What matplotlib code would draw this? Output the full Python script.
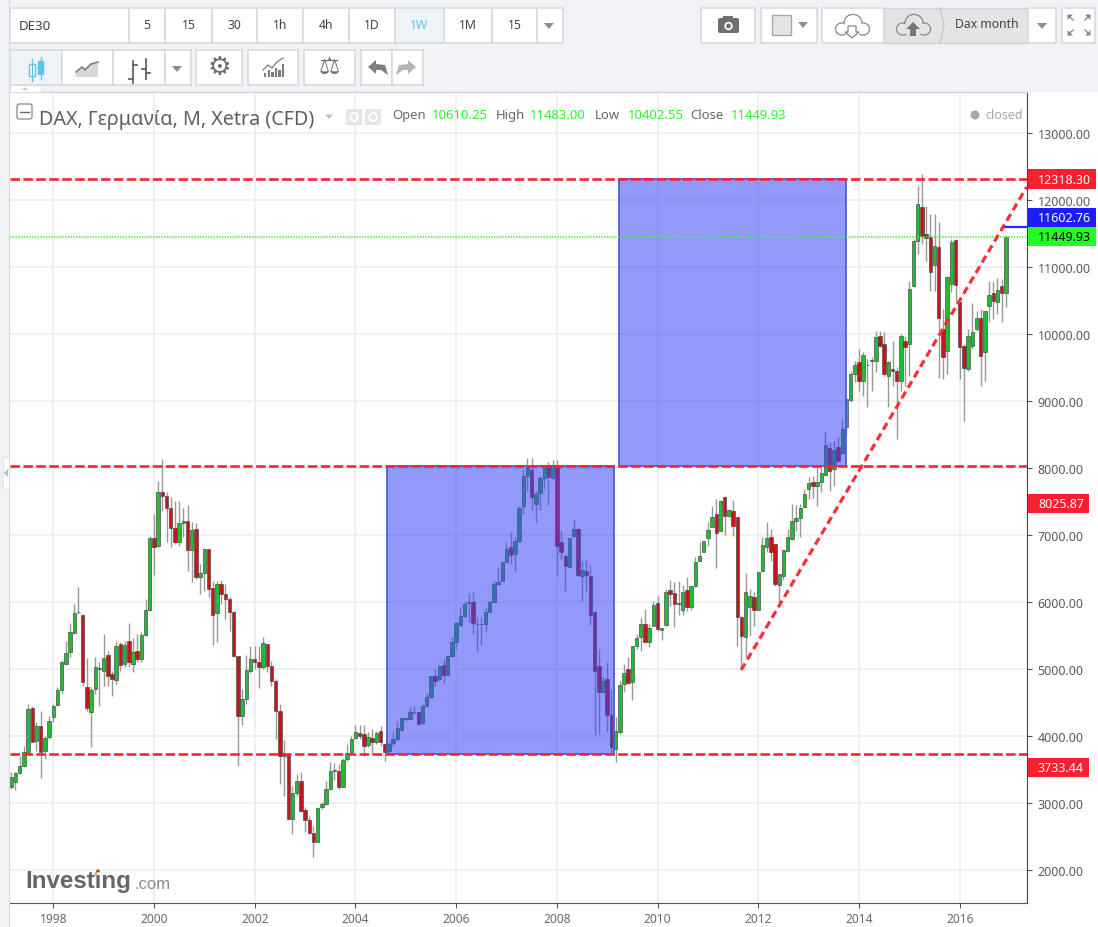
import matplotlib
matplotlib.use('Agg')
import numpy as np
import matplotlib.pyplot as plt
from matplotlib.patches import Rectangle, Polygon, Circle, FancyBboxPatch, Ellipse

plt.rcParams['font.family'] = ['Noto Sans', 'DejaVu Sans']

# monthly candles, first one is March 1997
first_year = 1997 + 2 / 12

opens = [3244,3318,3448,3557,3766,4413,3930,4144,3781,3980,
         4279,4463,4687,5075,5259,5532,5856,5806,4726,4363,
         4701,5000,4975,5209,4925,4836,5373,5075,5423,5075,
         5274,5149,5507,5886,6950,6841,7647,7587,7398,7104,
         6900,7179,7214,6781,7089,6368,6428,6791,6209,5836,
         6269,6119,6045,5856,5189,4303,4552,4975,5149,5100,
         5025,5373,5050,4816,4368,3706,3716,2761,3149,3323,
         2895,2746,2547,2423,2935,2985,3209,3483,3483,3244,
         3657,3756,3965,4045,4025,3866,3970,3915,4080,3881,
         3781,3891,3955,4095,4264,4254,4353,4353,4194,4453,
         4577,4890,4851,5060,4915,5199,5408,5657,5796,5980,
         6005,5672,5677,5672,5856,6005,6269,6318,6602,6816,
         6711,6905,7428,7876,7970,7462,7622,7856,8020,7846,
         8050,6890,6681,6517,6980,7090,6393,6468,6393,5856,
         5050,4652,4851,4318,3806,4065,4776,5000,4801,5338,
         5472,5672,5398,5647,5985,5582,5657,6179,6129,5970,
         5885,6179,5920,6234,6617,6751,6960,7115,7313,7065,
         7562,7288,7363,7263,5781,5472,5920,6070,5886,6468,
         6816,6965,6860,6254,6393,6766,6940,7214,7249,7413,
         7687,7786,7736,7796,7900,8293,7985,8308,8219,8607,
         9020,9403,9577,9303,9537,9600,9602,9975,9851,9368,
         9478,9443,9303,9900,9851,10711,11393,11900,11492,11443,
         11029,11293,10075,9741,10746,11408,10473,9816,9478,9816,
         10075,10234,9726,10423,10607,10472,10721,10610]

highs = [3468,3458,3706,3856,4477,4453,4204,4368,4005,4303,
         4477,4726,5139,5423,5687,5970,6219,5821,5159,4726,
         5174,5100,5522,5274,4975,5423,5398,5423,5682,5458,
         5522,5547,6045,6980,7313,7811,8134,7637,7562,7512,
         7512,7398,7448,7189,7179,6567,6791,6791,6318,6318,
         6333,6269,6070,5871,5199,4701,5209,5348,5348,5348,
         5473,5373,5124,4851,4478,3940,3716,3259,3433,3468,
         2935,2811,2662,2935,3010,3333,3607,3600,3582,3667,
         3880,4005,4169,4169,4169,4055,4104,4080,4154,3900,
         3905,4080,4229,4279,4269,4428,4443,4353,4477,4637,
         4890,5000,5060,5149,5199,5473,5697,5920,6005,6129,
         6154,5781,5771,5906,6020,6318,6502,6602,6900,7040,
         6965,7428,7985,8144,8144,7662,7886,8035,8094,8119,
         8119,7075,6716,6950,7239,7100,6617,6627,6552,5871,
         5298,4900,5100,4701,4279,4826,5075,5174,5348,5522,
         5756,5896,5672,6010,6094,5607,6194,6333,6293,6318,
         6254,6368,6244,6667,6890,6915,7189,7438,7537,7527,
         7587,7388,7527,7263,5796,6433,6194,6144,6453,6965,
         7189,7085,6865,6418,6781,7090,7463,7448,7463,7686,
         7870,7885,8035,8010,8547,8383,8408,8458,8731,9055,
         9452,9592,9776,9726,9626,9652,10050,10050,10025,9600,
         9900,9502,10000,9975,10796,11418,12214,12388,11915,11791,
         11791,11667,10373,10870,11418,11418,10497,9851,10075,10462,
         10348,10373,10348,10796,10771,10831,10821,11483]

lows = [3209,3200,3433,3532,3756,3905,3781,3368,3657,3955,
        4204,4453,4627,5075,5174,5522,5821,4751,4378,3841,
        4627,4453,4751,4751,4602,4776,4975,5025,5025,4950,
        5100,5100,5497,5871,6403,6816,7363,6900,6816,6866,
        6841,6965,6468,6293,6343,6119,6169,6070,5363,5398,
        5970,5746,5562,5174,3557,4164,4478,4940,5000,4716,
        5000,4950,4751,3955,3283,3109,2761,2537,3109,2861,
        2562,2537,2189,2413,2910,2970,3199,3350,3209,3234,
        3632,3746,3955,3955,3706,3831,3731,3880,3850,3622,
        3766,3856,3945,4080,4229,4244,4328,4169,4179,4443,
        4562,4741,4826,4776,4900,5174,5298,5647,5771,5697,
        5522,5264,5358,5557,5846,5995,6259,6308,6592,6567,
        6443,6890,7313,7662,7378,7199,7373,7687,7448,7836,
        6383,6642,6169,6507,6965,6393,6010,6149,5661,4020,
        4030,4642,4055,3766,3607,4030,4662,4776,4542,5298,
        5274,5388,5323,5637,5572,5438,5647,5945,5622,5800,
        5811,5871,5886,6219,6607,6741,6831,7115,6507,7055,
        7005,7263,6990,5348,5025,5174,5497,5647,5886,6468,
        6741,6617,6244,5970,6333,6741,6930,7060,6965,7403,
        7537,7552,7437,7637,7886,7661,7736,8085,8209,8507,
        8980,9278,9154,9079,8915,9154,9428,9801,9378,8915,
        9229,8433,9154,9229,9378,10697,11194,11343,11094,10647,
        10647,9338,9328,9403,10622,10473,9328,8706,9453,9776,
        10050,9229,9303,10174,10224,10298,10184,10402]

closes = [3393,3443,3557,3756,4403,3915,4144,3756,3965,4219,
          4443,4692,5100,5239,5547,5836,5846,4811,4413,4692,
          5025,5020,5169,4900,4851,5348,5060,5363,5100,5259,
          5149,5512,5886,6950,6816,7647,7587,7403,7104,6891,
          7179,7214,6781,7075,6368,6428,6791,6194,5811,6269,
          6119,6045,5846,5189,4303,4552,4990,5149,5100,5025,
          5388,5050,4816,4378,3706,3716,2761,3149,3323,2886,
          2746,2547,2423,2925,2985,3209,3483,3488,3244,3647,
          3746,3955,4055,4005,3846,3980,3915,4040,3905,3756,
          3881,3955,4114,4264,4254,4353,4358,4179,4453,4577,
          4890,4826,5050,4915,5189,5408,5682,5796,5970,5995,
          5687,5677,5667,5856,6005,6269,6303,6592,6791,6701,
          6905,7398,7876,8010,7572,7612,7856,8010,7861,8050,
          6841,6741,6532,6950,7090,6403,6478,6403,5811,4975,
          4662,4816,4318,3841,4080,4761,4940,4791,5338,5457,
          5672,5398,5612,5960,5597,5607,6144,6119,5970,5985,
          6144,5920,6234,6592,6681,6915,7080,7263,7030,7502,
          7288,7378,7139,5781,5497,6144,6085,5886,6443,6856,
          6950,6751,6264,6413,6771,6965,7214,7254,7398,7612,
          7771,7736,7786,7920,8343,7950,8268,8100,8582,9030,
          9403,9542,9293,9691,9542,9606,9950,9816,9403,9577,
          9453,9303,9975,9801,10672,11393,11940,11467,11428,10920,
          11308,10234,9652,10846,11378,10731,9801,9487,9965,10035,
          10244,9667,10343,10582,10487,10662,10612,11450]

levels = [12318.30, 8025.87, 3733.44]
last_close = 11449.93
pivot = 11602.76
range_boxes = [(2004.625, 2009.13, 3733.44, 8025.87), (2009.23, 2013.74, 8025.87, 12318.30)]
trend_years = [2011.66, 2017.33]
trend_prices = [4985, 12194]
price_ticks = list(range(2000, 14000, 1000))
year_ticks = list(range(1998, 2018, 2))

GREEN = '#22bb36'
RED = '#c4161c'
TXT = '#5a5a5a'
LIME = '#2cf52c'

fig = plt.figure(figsize=(10.98, 9.28), dpi=100, facecolor='#f0f2f6')
W, H = 1098.0, 928.0

# white page behind the chart and its axis labels
fig.add_artist(Rectangle((10 / W, 0), 1 - 10 / W, 1 - 93 / H, transform=fig.transFigure,
                         facecolor='white', edgecolor='none', zorder=-1))

# chart area, pixels 10-1027 across and 93-904 down
ax = fig.add_axes([10 / W, 1 - 904 / H, 1017 / W, 811 / H])
ax.set_xlim(1997.141, 2017.336)
ax.set_ylim(1507, 13612)
ax.set_axisbelow(True)
ax.grid(True, color='#ececec', linewidth=1.1)
ax.set_yticks(price_ticks)
ax.set_yticklabels(['%.2f' % p for p in price_ticks])
ax.set_xticks(year_ticks)
ax.set_xticklabels([str(y) for y in year_ticks], fontweight='bold')
ax.yaxis.tick_right()
ax.tick_params(axis='y', length=3.6, width=0.8, color='#555555', labelcolor=TXT, labelsize=9, pad=4)
ax.tick_params(axis='x', length=3.6, width=0.8, color='#555555', labelcolor='#6a6a6a', labelsize=8.6, pad=3)
ax.spines['top'].set_color('#cccccc')
ax.spines['left'].set_visible(False)
ax.spines['right'].set_color('#444444')
ax.spines['bottom'].set_color('#555555')

# candles
years = first_year + np.arange(len(closes)) / 12
o = np.array(opens)
c = np.array(closes)
up = c >= o
ax.vlines(years, lows, highs, color='#989898', linewidth=1.0, zorder=2)
ax.bar(years, np.abs(c - o), bottom=np.minimum(o, c), width=0.068,
       color=[GREEN if u else RED for u in up], edgecolor='#444444', linewidth=0.45, zorder=3)

# shaded ranges go over the candles
for x0, x1, y0, y1 in range_boxes:
    ax.add_patch(Rectangle((x0, y0), x1 - x0, y1 - y0, facecolor=(0.227, 0.267, 0.973, 0.55),
                           edgecolor='#4a5fd0', linewidth=1.3, zorder=4))

for lev in levels:
    ax.axhline(lev, color='#fb2430', linewidth=1.9, linestyle=(0, (3.6, 1.3)), zorder=5)
ax.axhline(last_close, color='#33ff33', linewidth=1.1, linestyle=(0, (1, 0.8)), zorder=5)
ax.plot(trend_years, trend_prices, color='#fb2f3a', linewidth=2.3, linestyle=(0, (2.4, 1.4)), zorder=5)
ax.plot([2016.9, 2017.336], [pivot, pivot], color='#2a2aff', linewidth=1.6, zorder=5)

# everything else is drawn in image pixels
ui = fig.add_axes([0, 0, 1, 1], zorder=5)
ui.set_xlim(0, W)
ui.set_ylim(H, 0)
ui.axis('off')
ui.patch.set_alpha(0)


def button(x0, x1, y0, y1, label=None, face='white', color='#444444', size=8.8, weight='bold'):
    ui.add_patch(Rectangle((x0, y0), x1 - x0, y1 - y0, facecolor=face, edgecolor='#d6d8dc', linewidth=1.1))
    if label:
        ui.text((x0 + x1) / 2, (y0 + y1) / 2 - 1, label, ha='center', va='center', color=color, fontsize=size, fontweight=weight)


def tri_down(x, y, w=5, h=4, color='#8e8e8e'):
    ui.add_patch(Polygon([(x - w, y - h / 2), (x + w, y - h / 2), (x, y + h)], closed=True, facecolor=color, edgecolor='none'))


def cloud(cx, face):
    parts = [(cx - 10, 30, 13, 12), (cx + 1, 24, 18, 17), (cx + 11, 30, 13, 12)]
    for ex, ey, ew, eh in parts:
        ui.add_patch(Ellipse((ex, ey), ew, eh, facecolor=face, edgecolor='#8a8a8a', linewidth=1.0))
    for ex, ey, ew, eh in parts:
        ui.add_patch(Ellipse((ex, ey), ew - 1.6, eh - 1.6, facecolor=face, edgecolor='none'))
    ui.add_patch(Rectangle((cx - 9, 28), 19, 7, facecolor=face, edgecolor='none'))


# frame bits
ui.add_patch(Rectangle((3, 458), 6, 32, facecolor='white', edgecolor='#dddddd', linewidth=0.6))
ui.add_patch(Polygon([(4, 474), (8, 470), (8, 478)], closed=True, facecolor='#bbbbbb', edgecolor='none'))
ui.plot([9, 9], [0, 928], color='#d8dade', linewidth=0.8)
ui.add_patch(Rectangle((10, 86), 31, 7, facecolor='white', edgecolor='#dddddd', linewidth=0.6))
ui.add_patch(Polygon([(22, 91), (28, 91), (25, 88)], closed=True, facecolor='#c8c8c8', edgecolor='none'))

# top toolbar
button(10, 129, 9, 44)
ui.text(19, 26, 'DE30', ha='left', va='center', color='#444444', fontsize=9.6, fontweight='bold')
periods = ['5', '15', '30', '1h', '4h', '1D', '1W', '1M', '15']
edges = [129, 165, 212, 257, 303, 349, 395, 444, 492, 537]
for i, p in enumerate(periods):
    if p == '1W':
        button(edges[i], edges[i + 1], 9, 44, p, face='#eef3f7', color='#5cc3ea')
    else:
        button(edges[i], edges[i + 1], 9, 44, p)
button(537, 563, 9, 44)
tri_down(549, 26)

button(701, 755, 9, 44)
ui.add_patch(FancyBboxPatch((718, 19), 21, 15, boxstyle='round,pad=0,rounding_size=2', facecolor='#6f6f6f', edgecolor='none'))
ui.add_patch(Rectangle((723, 17), 10, 3, facecolor='#6f6f6f', edgecolor='none'))
ui.add_patch(Circle((728.5, 27), 4.2, facecolor='white', edgecolor='none'))
ui.add_patch(Circle((728.5, 27), 2.4, facecolor='#6f6f6f', edgecolor='none'))
button(761, 817, 9, 44)
ui.add_patch(Rectangle((772, 16), 19, 20, facecolor='#e4e4e4', edgecolor='#a8a8a8', linewidth=1))
tri_down(803, 25)
button(822, 884, 9, 44)
ui.add_patch(Rectangle((884, 9), 144, 35, facecolor='#e4e4e6', edgecolor='#d2d4d8', linewidth=1))
cloud(852, 'white')
ui.add_patch(Polygon([(848, 27), (856, 27), (856, 33), (859, 33), (852, 39), (845, 33), (848, 33)],
                     closed=True, facecolor='white', edgecolor='#777777', linewidth=0.8))
cloud(913, '#e4e4e6')
ui.add_patch(Polygon([(906, 30), (913, 23), (920, 30), (916, 30), (916, 37), (910, 37), (910, 30)],
                     closed=True, facecolor='#777777', edgecolor='none'))
ui.plot([940, 944, 940], [9, 26, 44], color='#c8c8c8', linewidth=1)
ui.text(987, 25, 'Dax month', ha='center', va='center', color='#444444', fontsize=8.8, fontweight='bold')
button(1028, 1056, 9, 44)
tri_down(1042, 26)
button(1062, 1095, 9, 44)
for sx, sy in [(-1, -1), (1, -1), (-1, 1), (1, 1)]:
    cx, cy = 1079 + sx * 8, 26 + sy * 7
    ui.add_patch(Polygon([(cx + sx * 3.5, cy + sy * 3.5), (cx - sx * 2, cy + sy * 3.5), (cx + sx * 3.5, cy - sy * 2)],
                         closed=True, facecolor='#8a8a8a', edgecolor='none'))
    ui.plot([cx + sx * 2, cx - sx * 2], [cy + sy * 2, cy - sy * 2], color='#8a8a8a', linewidth=1)

# second toolbar
button(10, 62, 51, 86, face='#eef3f7')
ui.plot([32, 32], [60, 82], color='#5cc3ea', linewidth=0.9)
ui.add_patch(Rectangle((29, 65), 6, 12, facecolor='white', edgecolor='#5cc3ea', linewidth=1))
ui.plot([41, 41], [58, 80], color='#5cc3ea', linewidth=0.9)
ui.add_patch(Rectangle((38, 62), 5, 13, facecolor='#5cc3ea', edgecolor='#5cc3ea', linewidth=1))
button(62, 113, 51, 86)
ui.add_patch(Polygon([(76, 73), (82, 68), (85, 71), (91, 65), (98, 64), (98, 78), (76, 78)], closed=True,
                     facecolor='#d8d8d8', edgecolor='none'))
ui.plot([76, 82, 85, 91, 98], [73, 68, 71, 65, 63], color='#777777', linewidth=1.1)
button(113, 165, 51, 86)
ui.plot([133, 133], [62, 84], color='#666666', linewidth=1.3)
ui.plot([129, 133], [80, 80], color='#666666', linewidth=1.3)
ui.plot([133, 137], [66, 66], color='#666666', linewidth=1.3)
ui.plot([146, 146], [60, 80], color='#666666', linewidth=1.3)
ui.plot([142, 146], [70, 70], color='#666666', linewidth=1.3)
ui.plot([146, 150], [74, 74], color='#666666', linewidth=1.3)
button(165, 191, 51, 86)
tri_down(177, 69)
button(196, 242, 51, 86)
ui.text(219, 68, '\u2699', ha='center', va='center', color='#6f6f6f', fontsize=19, family='DejaVu Sans')
button(248, 298, 51, 86)
for k, bh in enumerate([4, 7, 5, 9, 7, 13]):
    ui.add_patch(Rectangle((264 + k * 3.6, 78 - bh), 2.4, bh, facecolor='#7a7a7a', edgecolor='none'))
ui.plot([263, 268, 272, 277, 283], [71, 66, 69, 63, 59], color='#7a7a7a', linewidth=0.9)
button(304, 355, 51, 86)
ui.text(329, 67, '\u2696', ha='center', va='center', color='#6f6f6f', fontsize=17, family='DejaVu Sans')
button(361, 392, 51, 86)
button(392, 423, 51, 86)
ui.add_patch(Polygon([(368, 68), (376, 61), (376, 65), (385, 66), (388, 76), (381, 71), (376, 71), (376, 75)], closed=True,
                     facecolor='#7f7f7f', edgecolor='none'))
ui.add_patch(Polygon([(416, 68), (408, 61), (408, 65), (399, 66), (396, 76), (403, 71), (408, 71), (408, 75)], closed=True,
                     facecolor='#b5b5b5', edgecolor='none'))

# chart header
ui.add_patch(FancyBboxPatch((17, 105), 15, 15, boxstyle='round,pad=0,rounding_size=2', facecolor='white', edgecolor='#888888', linewidth=0.9))
ui.plot([20, 29], [112.5, 112.5], color='#666666', linewidth=1)
ui.text(39, 120, 'DAX, Γερμανία, M, Xetra (CFD)', ha='left', va='center', color='#5f5f5f', fontsize=14.2)
tri_down(329, 117, w=4, h=3, color='#c0c0c0')
for bx in [346, 365]:
    ui.add_patch(Rectangle((bx, 110), 16, 16, facecolor='#e6e6e6', edgecolor='none'))
    ui.add_patch(Circle((bx + 8, 118), 4, facecolor='none', edgecolor='white', linewidth=1.4))
header_labels = ['Open', 'High', 'Low', 'Close']
header_values = ['10610.25', '11483.00', '10402.55', '11449.93']
label_x = [392, 496, 595, 690]
value_x = [432, 530, 628, 731]
for i in range(4):
    ui.text(label_x[i], 115.5, header_labels[i], ha='left', va='center', color='#666666', fontsize=9.4)
    ui.text(value_x[i], 115.5, header_values[i], ha='left', va='center', color=LIME, fontsize=9.4)
ui.add_patch(Circle((975, 116), 4.5, facecolor='#a8a8a8', edgecolor='none'))
ui.text(985, 115.5, 'closed', ha='left', va='center', color='#a6a6a6', fontsize=9)

# price labels on the right axis
tags = [('12318.30', 170, 190, '#f8202e', 'white'), ('11602.76', 209, 228, '#1c1cff', 'white'),
        ('11449.93', 228, 247, '#22ff22', 'black'), ('8025.87', 495, 514, '#f8202e', 'white'),
        ('3733.44', 759, 778, '#f8202e', 'white')]
for label, y0, y1, face, col in tags:
    x1 = 1096 if len(label) == 8 else 1089
    ui.add_patch(Rectangle((1028, y0), x1 - 1028, y1 - y0, facecolor=face, edgecolor='none'))
    ui.text(1038, (y0 + y1) / 2, label, ha='left', va='center', color=col, fontsize=9)

# logo
ui.text(25, 882, 'Investing', ha='left', va='center', color='#666666', fontsize=17.4, fontweight='bold', family='Liberation Sans')
ui.text(135, 885, '.com', ha='left', va='center', color='#8a8a8a', fontsize=12, family='Liberation Sans')
ui.plot([95, 98], [876, 871], color='#f5a54a', linewidth=1.6)

fig.savefig('out.png', dpi=100, facecolor=fig.get_facecolor())
